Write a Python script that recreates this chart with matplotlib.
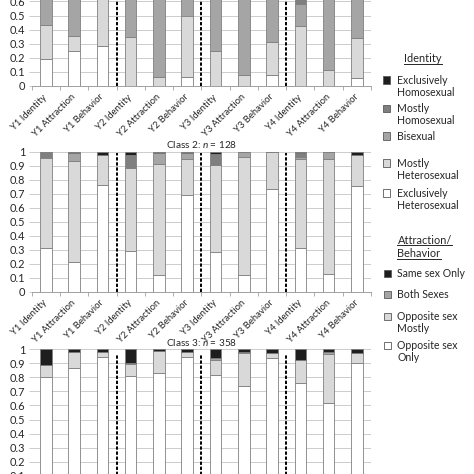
#!/usr/bin/env python3
"""Stacked proportion bars of identity / attraction / behavior per class (Y1-Y4)."""
import matplotlib
matplotlib.use("Agg")
import matplotlib.pyplot as plt
from matplotlib.patches import Rectangle
from matplotlib.lines import Line2D
from matplotlib.ticker import FuncFormatter, FixedLocator

plt.rcParams.update({
    "font.family": ["Lato", "DejaVu Sans"], "font.size": 7,
    "mathtext.fontset": "custom", "mathtext.rm": "Lato",
    "mathtext.it": "Lato:italic",
    "axes.edgecolor": "#8c8c8c", "axes.linewidth": 0.7,
    "xtick.color": "#8c8c8c", "ytick.color": "#8c8c8c",
    "xtick.labelcolor": "#262626", "ytick.labelcolor": "#262626",
})

W_PX = 474.0
categories = ["Y1 Identity", "Y1 Attraction", "Y1 Behavior",
              "Y2 Identity", "Y2 Attraction", "Y2 Behavior",
              "Y3 Identity", "Y3 Attraction", "Y3 Behavior",
              "Y4 Identity", "Y4 Attraction", "Y4 Behavior"]

# segment heights, bottom -> top (excl. hetero / mostly hetero / bisexual / mostly homo / excl. homo)
c1_white = [0.19, 0.245, 0.285, 0.0, 0.0, 0.065, 0.0, 0.0, 0.08, 0.0, 0.0, 0.06]
c1_light = [0.245, 0.11, 0.435, 0.35, 0.062, 0.435, 0.25, 0.075, 0.23, 0.425, 0.115, 0.28]
c1_bi    = [0.365, 0.575, 0.23, 0.43, 0.868, 0.45, 0.51, 0.855, 0.64, 0.155, 0.815, 0.61]
c1_mhomo = [0.15, 0.0, 0.0, 0.17, 0.0, 0.0, 0.18, 0.0, 0.0, 0.36, 0.0, 0.0]
c1_black = [0.05, 0.07, 0.05, 0.05, 0.07, 0.05, 0.06, 0.07, 0.05, 0.06, 0.07, 0.05]

c2_white = [0.31, 0.215, 0.76, 0.29, 0.12, 0.69, 0.285, 0.12, 0.735, 0.315, 0.13, 0.755]
c2_light = [0.642, 0.72, 0.215, 0.595, 0.79, 0.26, 0.62, 0.84, 0.265, 0.63, 0.82, 0.225]
c2_bi    = [0.013, 0.055, 0.0, 0.0, 0.08, 0.04, 0.0, 0.04, 0.0, 0.015, 0.05, 0.0]
c2_mhomo = [0.035, 0.0, 0.0, 0.095, 0.0, 0.0, 0.08, 0.0, 0.0, 0.03, 0.0, 0.0]
c2_black = [0.0, 0.01, 0.025, 0.02, 0.01, 0.01, 0.015, 0.0, 0.0, 0.01, 0.0, 0.02]

c3_white = [0.805, 0.864, 0.948, 0.81, 0.83, 0.943, 0.817, 0.738, 0.938, 0.757, 0.621, 0.9]
c3_light = [0.08, 0.117, 0.032, 0.085, 0.155, 0.04, 0.107, 0.237, 0.033, 0.167, 0.349, 0.072]
c3_bi    = [0.005, 0.0, 0.0, 0.005, 0.0, 0.0, 0.012, 0.008, 0.0, 0.0, 0.01, 0.0]
c3_mhomo = [0.0] * 12
c3_black = [0.11, 0.019, 0.02, 0.1, 0.015, 0.017, 0.064, 0.017, 0.029, 0.076, 0.02, 0.028]

class_titles = [None, "Class 2: $n$ = 128", "Class 3: $n$ = 358"]
divider_tops = [0.96, 0.99, 0.96]

id_labels = ["Exclusively\nHomosexual", "Mostly\nHomosexual", "Bisexual",
             "Mostly\nHeterosexual", "Exclusively\nHeterosexual"]
ab_labels = ["Same sex Only", "Both Sexes", "Opposite sex\nMostly", "Opposite sex\nOnly"]

C_SEG = ["#ffffff", "#d9d9d9", "#a5a5a5", "#7f7f7f", "#1e1e1e"]
C_EDGE = "#808080"
C_GRID = "#c4c4c4"
C_TXT = "#262626"

panels = [
    [c1_white, c1_light, c1_bi, c1_mhomo, c1_black],
    [c2_white, c2_light, c2_bi, c2_mhomo, c2_black],
    [c3_white, c3_light, c3_bi, c3_mhomo, c3_black],
]
# axes top / bottom in pixels (panel 1 and 3 run past the picture edge)
panel_px = [(-55.0, 86.0), (151.7, 291.7), (349.3, 489.7)]
AX_L, AX_R = 31.7, 371.0

fig = plt.figure(figsize=(4.74, 4.74), dpi=100)
x = list(range(len(categories)))
for segs, (top, bot), title, dtop in zip(panels, panel_px, class_titles, divider_tops):
    ax = fig.add_axes([AX_L / W_PX, 1 - bot / W_PX, (AX_R - AX_L) / W_PX, (bot - top) / W_PX])
    bottom = [0.0] * len(categories)
    for vals, col in zip(segs, C_SEG):
        ax.bar(x, vals, bottom=bottom, width=0.41, color=col, edgecolor=C_EDGE,
               linewidth=0.6, zorder=3)
        bottom = [b + v for b, v in zip(bottom, vals)]
    for xd in (2.5, 5.5, 8.5):
        ax.plot([xd, xd], [0, dtop], color="black", lw=1.4,
                linestyle=(0, (1.7, 0.9)), zorder=4)
    ax.set_xlim(-0.5, len(categories) - 0.5)
    ax.set_ylim(0, 1)
    ax.set_yticks([i / 10 for i in range(11)])
    ax.yaxis.set_major_formatter(FuncFormatter(lambda v, p: f"{v:g}"))
    ax.yaxis.grid(True, color=C_GRID, linewidth=0.6, zorder=0)
    ax.tick_params(axis="y", length=2.5, width=0.6, pad=2, labelsize=7.9, color=C_GRID)
    ax.set_xticks(x)
    ax.set_xticklabels(categories, rotation=45, ha="right", va="center",
                       rotation_mode="anchor", fontsize=6.8)
    ax.tick_params(axis="x", which="major", length=0, pad=7)
    ax.xaxis.set_minor_locator(FixedLocator([i - 0.5 for i in range(len(categories) + 1)]))
    ax.tick_params(axis="x", which="minor", length=3, width=0.6, color="#a0a0a0")
    for s in ("top", "right", "left"):
        ax.spines[s].set_visible(False)
    ax.spines["bottom"].set_color("#a0a0a0")
    if title:
        ax.set_title(title, fontsize=7.2, pad=2.5, color=C_TXT)

# ---- manual legend ----
def fy(px): return 1 - px / W_PX
def fx(px): return px / W_PX

LINE_PX = 12.6

def header(txt, x0, base_y, ha="left"):
    tx = fig.text(fx(x0), fy(base_y), txt, fontsize=7.9, color=C_TXT, ha=ha, va="baseline")
    fig.canvas.draw()
    bb = tx.get_window_extent().transformed(fig.transFigure.inverted())
    uy = fy(base_y + 1.8)
    fig.add_artist(Line2D([bb.x0, bb.x1], [uy, uy], color=C_TXT, lw=0.7))

def entry(lab, col, x_sq, x_txt, y):
    fig.add_artist(Rectangle((fx(x_sq), fy(y + SQ / 2)), SQ / W_PX, SQ / W_PX,
                             facecolor=col, edgecolor="#595959", linewidth=0.6))
    for i, line in enumerate(lab.split("\n")):
        fig.text(fx(x_txt), fy(y + 3.6 + i * LINE_PX), line, fontsize=7.6,
                 color=C_TXT, va="baseline")

header("Identity", 423, 61.7, ha="center")
header("Attraction/", 397.5, 243.5)
header("Behavior", 397.5, 257.0)

SQ = 7.0
for lab, col, y in zip(id_labels, C_SEG[::-1], [80, 108, 136, 163, 193]):
    entry(lab, col, 382.5, 396.5, y)
ab_cols = [C_SEG[4], C_SEG[2], C_SEG[1], C_SEG[0]]
for lab, col, y in zip(ab_labels, ab_cols, [273, 294, 316, 345]):
    entry(lab, col, 383.5, 397, y)

fig.savefig("out.png", dpi=100)
print("wrote out.png")
